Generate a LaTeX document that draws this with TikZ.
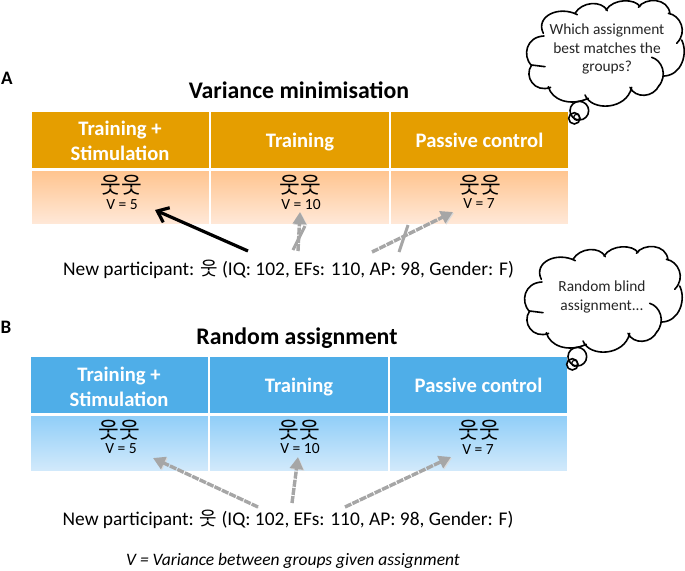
\documentclass[tikz,border=0pt]{standalone}
\usepackage{fontspec}
\setmainfont{Carlito}
\newfontfamily\cjk{Noto Sans CJK KR}
\usepackage{xcolor}
\usepackage{tikz}
\usetikzlibrary{arrows.meta}
\usetikzlibrary{positioning}

\definecolor{orangehead}{HTML}{E59E00}
\definecolor{orangetop}{HTML}{FFC48E}
\definecolor{orangelow}{HTML}{FFE9DA}
\definecolor{bluehead}{HTML}{4FAEE8}
\definecolor{bluetop}{HTML}{90CEF8}
\definecolor{bluelow}{HTML}{D3EAFB}
\definecolor{arrowgrey}{HTML}{A6A6A6}

\newcommand{\folk}[1]{{\cjk\fontsize{22.5}{22.5}\selectfont #1}}
\newcommand{\onefolk}[1]{{\cjk\fontsize{19}{19}\selectfont #1}}

\tikzset{
	cellbox/.style={draw=white, line width=1.4pt, inner sep=0pt, minimum width=179pt},
	headA/.style={cellbox, fill=orangehead, minimum height=58pt},
	headB/.style={cellbox, fill=bluehead, minimum height=58pt},
	bodyA/.style={cellbox, top color=orangetop, bottom color=orangelow, minimum height=55pt},
	bodyB/.style={cellbox, top color=bluetop, bottom color=bluelow, minimum height=56pt},
	headtext/.style={text=white, font=\fontsize{20.6}{25}\selectfont\bfseries, align=center},
	title/.style={font=\fontsize{23.8}{27}\selectfont\bfseries},
	letter/.style={font=\fontsize{19}{22}\selectfont\bfseries},
	vlabel/.style={font=\fontsize{15.5}{17}\selectfont},
	newline/.style={font=\fontsize{19.4}{23}\selectfont},
	saying/.style={font=\fontsize{15.4}{18.5}\selectfont, align=center, text=black!85},
	greyarrow/.style={draw=arrowgrey, line width=3.4pt, dash pattern=on 7pt off 1.2pt, -{Triangle[length=12pt,width=13pt]}, preaction={draw=black!15, transform canvas={shift={(1pt,-1pt)}}}},
	strike/.style={draw=arrowgrey, line width=3pt},
	thought/.pic={
		\fill[white] (70,100) -- (170,40) -- (360,20) -- (450,42) -- (485,120) -- (433,228) -- (415,260) -- (330,262) -- (195,285) -- (85,260) -- (35,195) -- cycle;
		\draw[line width=1.6pt, line cap=round]
			(70,100) .. controls (45,50) and (115,15) .. (172,44)
			(165,40) .. controls (185,5) and (245,0) .. (262,32)
			(258,30) .. controls (280,-5) and (345,-5) .. (360,20)
			(355,22) .. controls (375,-8) and (445,-8) .. (450,42)
			(445,40) .. controls (480,45) and (505,95) .. (470,130)
			(485,120) .. controls (505,160) and (485,225) .. (433,228)
			(395,172) .. controls (425,180) and (445,225) .. (415,260)
			(418,255) .. controls (400,295) and (345,295) .. (330,262)
			(335,262) .. controls (320,330) and (215,335) .. (195,285)
			(205,295) .. controls (150,320) and (95,300) .. (85,260)
			(92,262) .. controls (45,280) and (10,230) .. (35,195)
			(75,200) -- (35,195)
			(35,198) .. controls (5,165) and (20,110) .. (72,108);
		\draw[line width=1.6pt] (178,332) circle[radius=28];
		\draw[line width=1.6pt] (163,355) circle[radius=17];
		\draw[line width=1.2pt] (170,352) circle[radius=9];
	}
}

\begin{document}
\begin{tikzpicture}[x=1pt, y=-1pt]
	\useasboundingbox (0,0) rectangle (685,570);

	% panel A
	\node[letter] (letterA) at (7,78) {A};
	\node[title] (titleA) at (299,90) {Variance minimisation};
	\node[headA] (headA1) at (120.5,140) {};
	\node[headA] (headA2) at (300,140) {};
	\node[headA] (headA3) at (479.5,140) {};
	\node[headtext] (textA1) at (120,141) {Training +\\Stimulation};
	\node[headtext, anchor=base] (textA2) at (300,147.5) {Training};
	\node[headtext, anchor=base] (textA3) at (479.5,147.5) {Passive control};
	\node[bodyA] (bodyA1) at (120.5,197.5) {};
	\node[bodyA] (bodyA2) at (300,197.5) {};
	\node[bodyA] (bodyA3) at (479.5,197.5) {};
	\node (folkA1) at (121,185) {\folk{웃웃}};
	\node (folkA2) at (300,185) {\folk{웃웃}};
	\node (folkA3) at (480,185) {\folk{웃웃}};
	\node[vlabel] (vA1) at (122,204.5) {V = 5};
	\node[vlabel] (vA2) at (301,204.5) {V = 10};
	\node[vlabel] (vA3) at (479,203.5) {V = 7};
	\node[newline] (newA) at (288.5,269) {New participant: \onefolk{웃} (IQ: 102, EFs: 110, AP: 98, Gender: F)};

	\coordinate (fromA1) at (248,251);
	\coordinate (toA1) at (155,210);
	\coordinate (fromA2) at (298,251);
	\coordinate (toA2) at (300,212);
	\coordinate (fromA3) at (372,252);
	\coordinate (toA3) at (453,212);
	\coordinate (crossA2a) at (305,226);
	\coordinate (crossA2b) at (293,250);
	\coordinate (crossA3a) at (408,225);
	\coordinate (crossA3b) at (399,252);
	\draw[line width=3.2pt, -{Straight Barb[length=10pt,width=16pt,line width=3.2pt]}] (fromA1) -- (toA1);
	\draw[greyarrow] (fromA2) -- (toA2);
	\draw[greyarrow] (fromA3) -- (toA3);
	\draw[strike] (crossA2a) -- (crossA2b);
	\draw[strike] (crossA3a) -- (crossA3b);

	\pic[scale=1/3] at (520,0) {thought};
	\node[saying] (sayA) at (607,49) {Which assignment\\best matches the\\groups?};

	% panel B
	\node[letter] (letterB) at (6,327) {B};
	\node[title] (titleB) at (297,338) {Random assignment};
	\node[headB] (headB1) at (119.5,385) {};
	\node[headB] (headB2) at (299,385) {};
	\node[headB] (headB3) at (478.5,385) {};
	\node[headtext] (textB1) at (119,386.5) {Training +\\Stimulation};
	\node[headtext, anchor=base] (textB2) at (299,392) {Training};
	\node[headtext, anchor=base] (textB3) at (478.5,392) {Passive control};
	\node[bodyB] (bodyB1) at (119.5,443.5) {};
	\node[bodyB] (bodyB2) at (299,443.5) {};
	\node[bodyB] (bodyB3) at (478.5,443.5) {};
	\node (folkB1) at (119.5,430) {\folk{웃웃}};
	\node (folkB2) at (299,430) {\folk{웃웃}};
	\node (folkB3) at (479,430) {\folk{웃웃}};
	\node[vlabel] (vB1) at (121,448.5) {V = 5};
	\node[vlabel] (vB2) at (300,449) {V = 10};
	\node[vlabel] (vB3) at (478,450) {V = 7};
	\node[newline] (newB) at (288,519) {New participant: \onefolk{웃} (IQ: 102, EFs: 110, AP: 98, Gender: F)};

	\coordinate (fromB1) at (258,507);
	\coordinate (toB1) at (153,458);
	\coordinate (fromB2) at (292,503);
	\coordinate (toB2) at (298,457);
	\coordinate (fromB3) at (345,507);
	\coordinate (toB3) at (451,457);
	\draw[greyarrow] (fromB1) -- (toB1);
	\draw[greyarrow] (fromB2) -- (toB2);
	\draw[greyarrow] (fromB3) -- (toB3);

	\pic[scale=1/3] at (518,246) {thought};
	\node[saying] (sayB) at (602,297) {Random blind\\assignment...};

	\node[font=\fontsize{17.5}{20}\selectfont\itshape] (note) at (293,561) {V = Variance between groups given assignment};
\end{tikzpicture}
\end{document}
